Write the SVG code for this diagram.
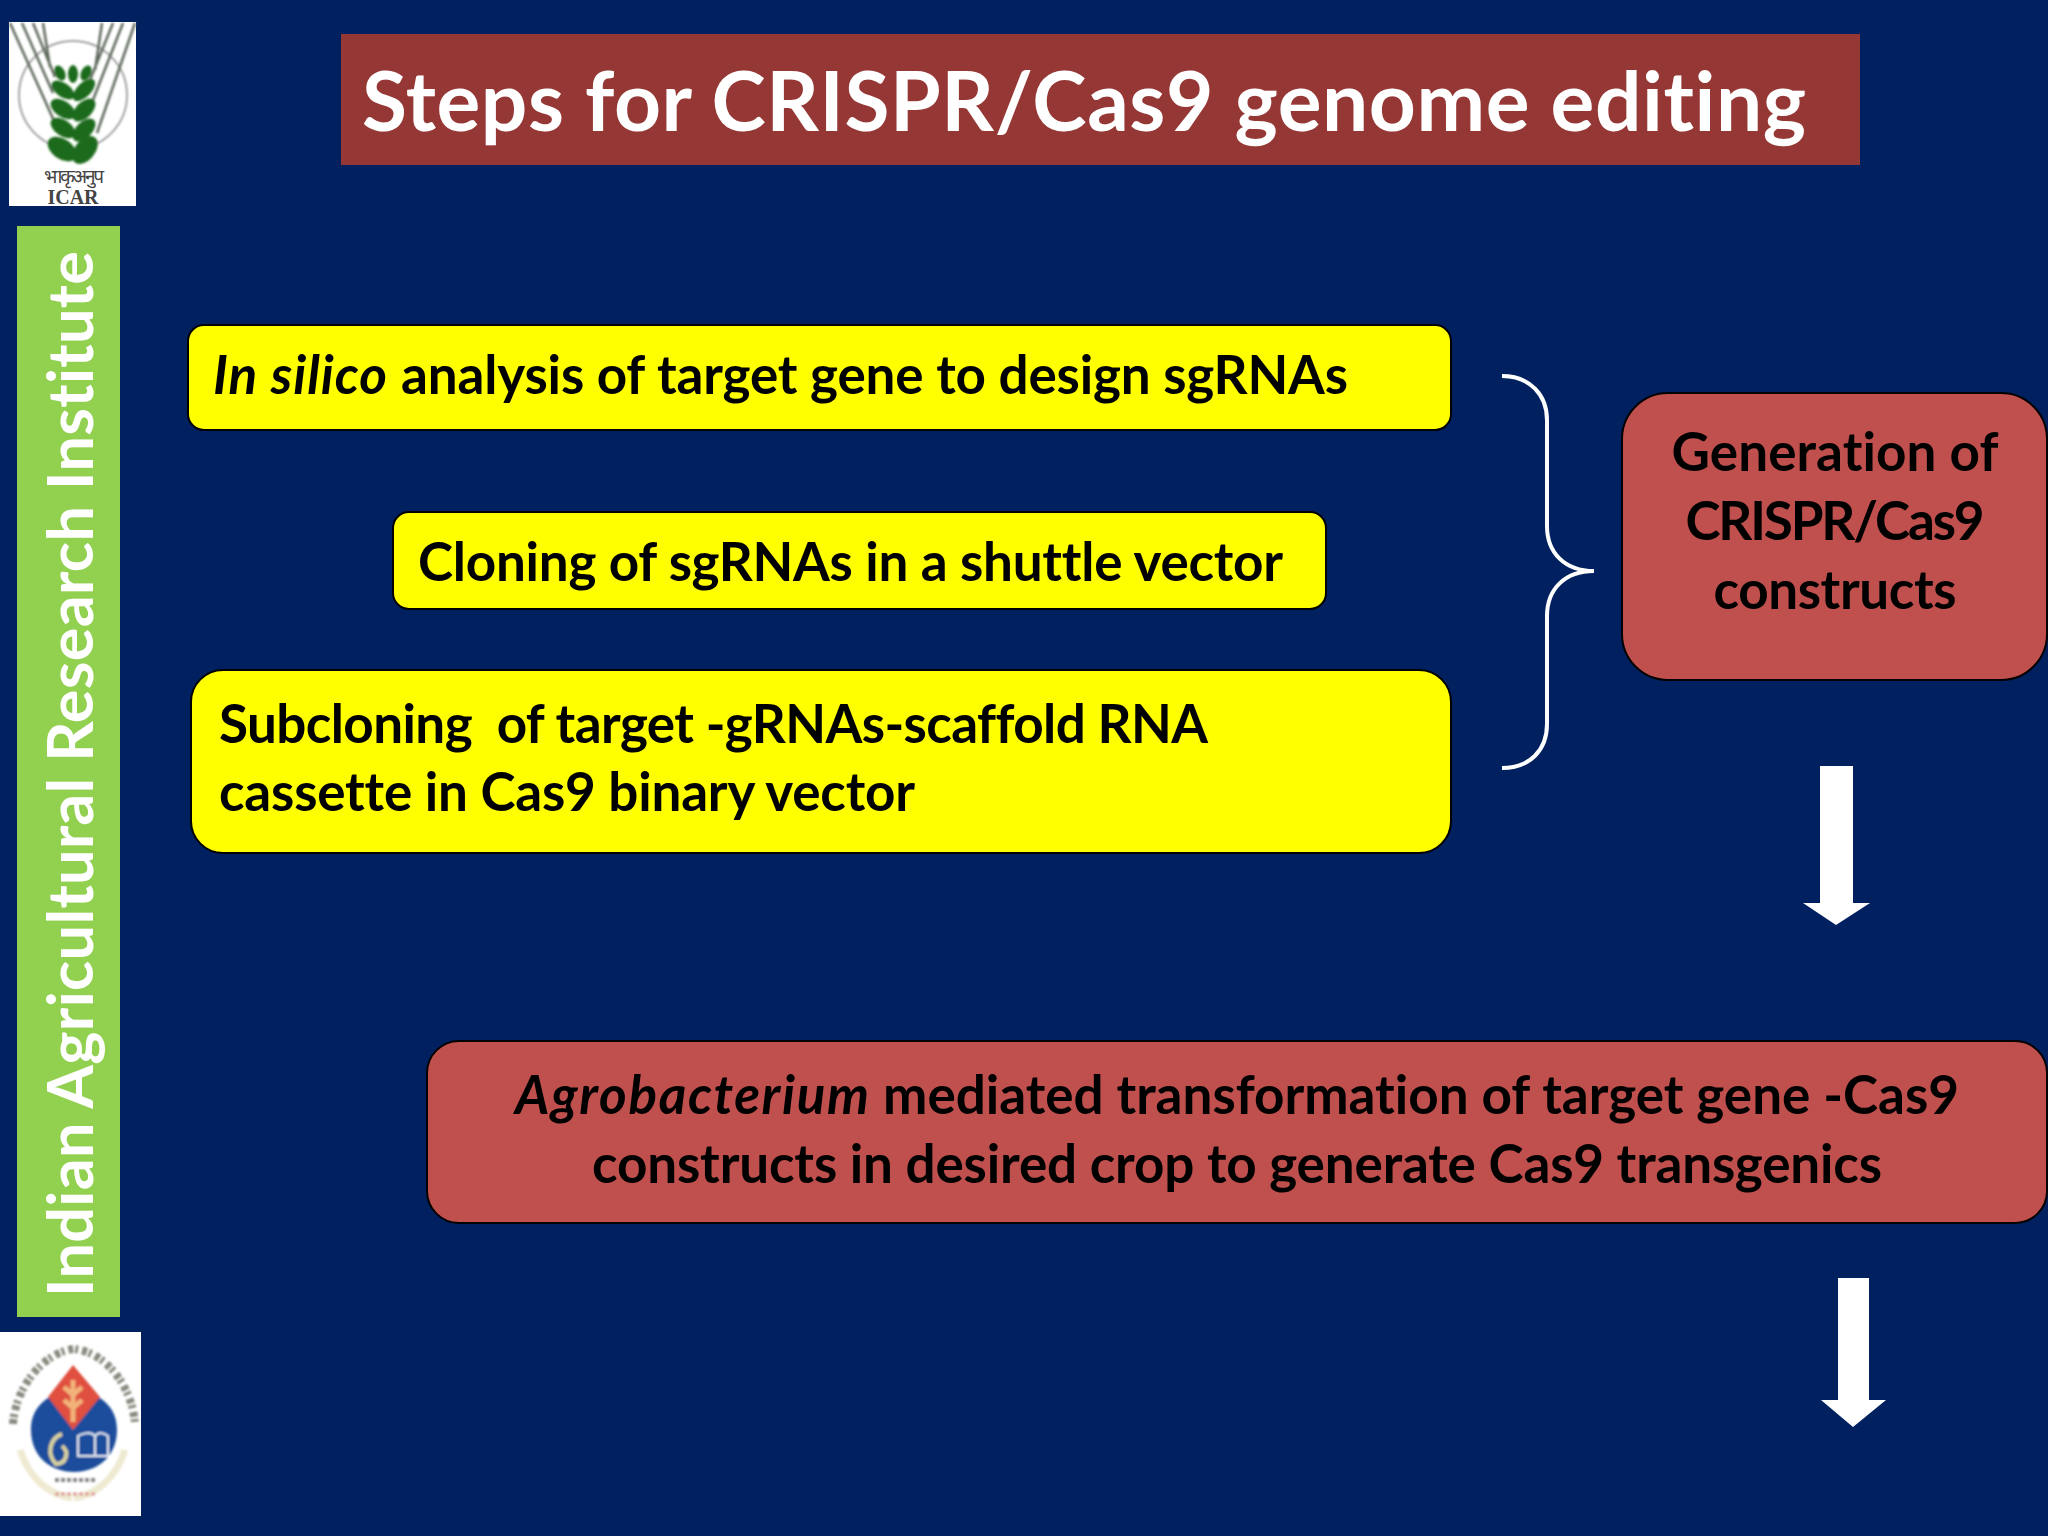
<svg xmlns="http://www.w3.org/2000/svg" width="2048" height="1536" viewBox="0 0 2048 1536">
<style>
text{font-family:"Lato","Carlito","Liberation Sans",sans-serif;font-weight:700;fill:#000;font-variant-ligatures:none}
.t{font-size:53px}
.c{text-anchor:middle}
.i{font-style:italic}
.red{fill:#C0504D;stroke:#000;stroke-width:2}
.yel{fill:#FFFF00;stroke:#000;stroke-width:2}
.leaf{fill:#1F6A1C}
.stalk{fill:none;stroke:#5f6a5c;stroke-width:2.5}
</style>
<defs><filter id="b" x="-5%" y="-5%" width="110%" height="110%"><feGaussianBlur stdDeviation="0.8"/></filter></defs>
<rect width="2048" height="1536" fill="#002060"/>
<g id="title"><rect x="341" y="34" width="1519" height="131" fill="#953735"/>
<text x="362" y="131" font-size="82" textLength="1444" style="fill:#fff">Steps for CRISPR/Cas9 genome editing</text></g>
<g id="sidebar"><rect x="17" y="226" width="103" height="1091" fill="#92D050"/>
<text transform="translate(93 1297) rotate(-90)" font-size="63" textLength="1046" style="fill:#fff">Indian Agricultural Research Institute</text></g>
<g id="logo-icar"><rect x="9" y="22" width="127" height="184" fill="#fff"/>
<g filter="url(#b)">
<circle cx="73" cy="95" r="54" fill="none" stroke="#888" stroke-width="1.5"/>
<path class="stalk" d="M10 23L55 123M22 23L53 93M33 23L55 77M43 23L50 67M135 23L97 133M123 23L93 100M113 23L90 80M102 23L95 70"/>
<g class="leaf"><ellipse cx="60" cy="73" rx="5" ry="8" transform="rotate(-25 60 73)"/><ellipse cx="73" cy="74" rx="5" ry="9"/><ellipse cx="86" cy="73" rx="5" ry="8" transform="rotate(25 86 73)"/>
<ellipse cx="63" cy="90" rx="13" ry="7" transform="rotate(35 63 90)"/><ellipse cx="84" cy="90" rx="14" ry="7" transform="rotate(-45 84 90)"/>
<ellipse cx="63" cy="109" rx="14" ry="8" transform="rotate(35 63 109)"/><ellipse cx="84" cy="110" rx="14" ry="8" transform="rotate(-45 84 110)"/>
<ellipse cx="63" cy="128" rx="14" ry="8" transform="rotate(35 63 128)"/><ellipse cx="84" cy="130" rx="14" ry="8" transform="rotate(-45 84 130)"/>
<ellipse cx="62" cy="149" rx="16" ry="10" transform="rotate(35 62 149)"/><ellipse cx="85" cy="150" rx="16" ry="10" transform="rotate(-50 85 150)"/></g>
</g>
<text x="73" y="183" font-size="19" textLength="60" class="c" style="font-family:'Noto Sans','Liberation Sans',sans-serif;font-weight:400;fill:#444">भाकृअनुप</text>
<text x="73" y="204" font-size="20" class="c" style="font-family:'Liberation Serif',serif;fill:#444">ICAR</text></g>
<g id="logo-iari"><rect x="0" y="1332" width="141" height="184" fill="#fff"/>
<g filter="url(#b)">
<path d="M31 1430C31 1408 44 1400 60 1390L73 1380L88 1390C104 1400 117 1408 117 1430C117 1456 98 1472 74 1472C50 1472 31 1456 31 1430Z" fill="#1F4E9C"/>
<path d="M73 1365L100 1397L73 1430L48 1397Z" fill="#E0503F"/>
<path d="M73 1380V1422M73 1395L64 1387M73 1395L82 1387M73 1408L64 1400M73 1408L82 1400" stroke="#F2B37A" stroke-width="5" fill="none"/>
<path d="M62 1434C50 1438 46 1454 56 1464C66 1464 70 1452 62 1446" stroke="#D8D2A0" stroke-width="4" fill="none"/>
<path d="M78 1436Q90 1430 95 1436Q100 1430 108 1436V1456H78ZM95 1436V1456" stroke="#DDE6F2" stroke-width="2" fill="none"/>
<path d="M13 1424C16 1385 45 1352 74 1349C105 1352 132 1385 135 1424" fill="none" stroke="#8a8a80" stroke-width="8" stroke-dasharray="5 2 3 4"/>
<path d="M20 1450C30 1480 50 1495 72 1498M125 1450C115 1480 95 1495 74 1498" fill="none" stroke="#EFEAD2" stroke-width="7"/>
<path d="M55 1480H95" stroke="#888" stroke-width="4" stroke-dasharray="4 2"/>
<path d="M55 1494H95" stroke="#D99" stroke-width="3" stroke-dasharray="4 2"/>
</g></g>
<g id="box-insilico"><rect x="188" y="325" width="1263" height="105" rx="16" class="yel"/>
<text x="213" y="394" class="t i" textLength="174">In silico</text>
<text x="401" y="394" class="t" textLength="947">analysis of target gene to design sgRNAs</text></g>
<g id="box-cloning"><rect x="393" y="512" width="933" height="97" rx="16" class="yel"/>
<text x="418" y="581" class="t" textLength="865">Cloning of sgRNAs in a shuttle vector</text></g>
<g id="box-subcloning"><rect x="191" y="670" width="1260" height="183" rx="32" class="yel"/>
<text x="219" y="743" class="t" xml:space="preserve" textLength="989">Subcloning  of target -gRNAs-scaffold RNA</text>
<text x="219" y="811" class="t" textLength="696">cassette in Cas9 binary vector</text></g>
<g id="box-generation"><rect x="1622" y="393" width="425" height="287" rx="46" class="red"/>
<text x="1835" y="471" class="t c" textLength="327">Generation of</text>
<text x="1835" y="540" class="t c" textLength="299">CRISPR/Cas9</text>
<text x="1835" y="609" class="t c" textLength="243">constructs</text></g>
<g id="box-agro"><rect x="427" y="1041" width="1620" height="182" rx="32" class="red"/>
<text x="515" y="1114" class="t i" textLength="354">Agrobacterium</text>
<text x="883" y="1114" class="t" textLength="1076">mediated transformation of target gene -Cas9</text>
<text x="1237" y="1183" class="t c" textLength="1290">constructs in desired crop to generate Cas9 transgenics</text></g>
<g id="connectors">
<path d="M1502 376C1530 376 1547 395 1547 420V526C1547 553 1565 571 1594 571C1565 571 1547 589 1547 616V724C1547 750 1530 768 1502 768" fill="none" stroke="#fff" stroke-width="4"/>
<path d="M1820 766H1853V903H1870L1836 925L1803 903H1820Z" fill="#fff"/>
<path d="M1838 1278H1869V1400H1886L1853 1427L1821 1400H1838Z" fill="#fff"/>
</g>
</svg>
